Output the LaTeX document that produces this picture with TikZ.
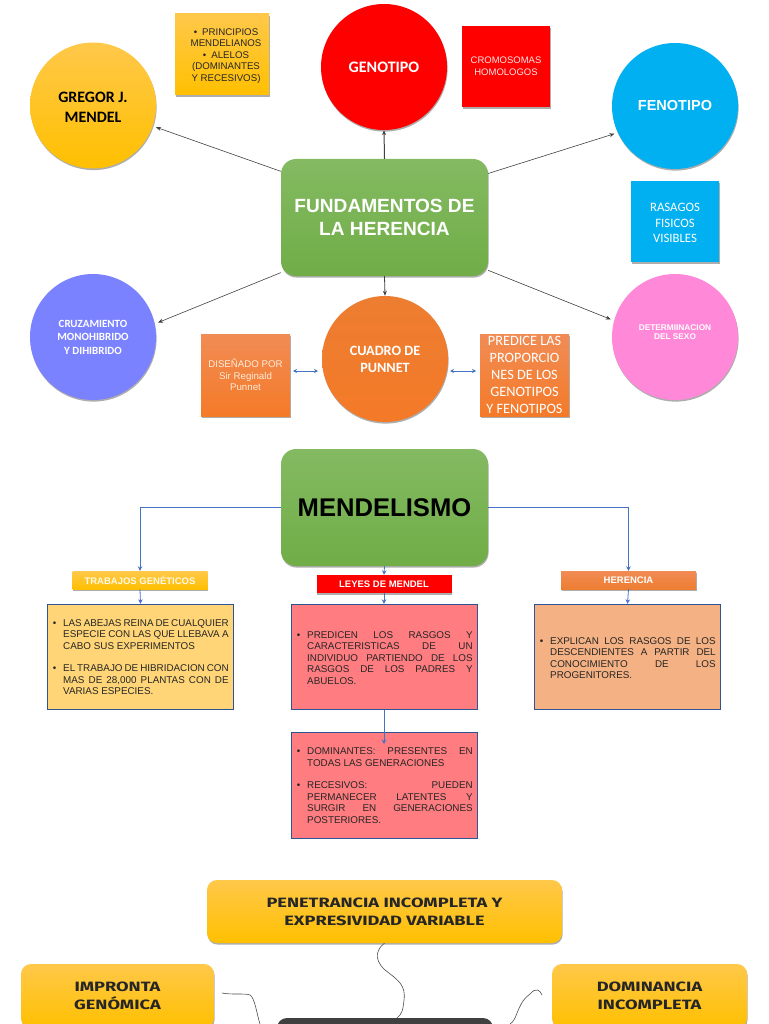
\documentclass[tikz,border=0pt]{standalone}
\usepackage{fontspec}
\setmainfont{Liberation Sans}
\newfontfamily\carl{Carlito}
\newfontfamily\fira{Fira Sans}
\usetikzlibrary{shadows,arrows.meta}
\definecolor{gold}{HTML}{FFC000}
\definecolor{goldt}{HTML}{FFC84A}
\definecolor{grn}{HTML}{70AD47}
\definecolor{grnt}{HTML}{84BA62}
\definecolor{org}{HTML}{ED7D31}
\definecolor{orgb}{HTML}{F47A28}
\definecolor{orgt}{HTML}{F18C55}
\definecolor{sky}{HTML}{00B0F0}
\definecolor{peri}{HTML}{7B82FF}
\definecolor{pinkc}{HTML}{FF88D8}
\definecolor{ltgold}{HTML}{FFD577}
\definecolor{salmon}{HTML}{FF7C80}
\definecolor{peach}{HTML}{F4B183}
\definecolor{navy}{HTML}{2F5496}
\definecolor{conn}{HTML}{4472C4}
\definecolor{darkb}{HTML}{404040}
\tikzset{
  shad/.style={drop shadow={shadow xshift=0.6pt,shadow yshift=-1.6pt,opacity=.4,fill=black!80}},
  circ/.style={circle,minimum size=126pt,inner sep=0pt,align=center,shad},
  sq/.style={rectangle,inner sep=0pt,align=center,shad},
  rbox/.style={rectangle,rounded corners=15pt,inner sep=0pt,align=center,shad},
  head/.style={rectangle,inner sep=0pt,align=center,shad,minimum height=18pt,minimum width=135pt,font=\bfseries\fontsize{9.5}{11}\selectfont,text=white},
  det/.style={rectangle,draw=navy,line width=.9pt,inner sep=0pt,minimum width=186pt,minimum height=105.5pt},
  gr/.style={draw=black!75,line width=.6pt,shorten >=3.5pt,-{Stealth[length=5pt,width=4pt]}},
  bl/.style={draw=conn,line width=.8pt,-{Stealth[length=4.5pt,width=4.5pt]}},
  dbl/.style={draw=conn,line width=.8pt,{Stealth[length=4pt,width=4pt]}-{Stealth[length=4pt,width=4pt]}},
  sq2/.style={draw=black!70,line width=.6pt},
  goldgrad/.style={top color=goldt,bottom color=gold},
  body/.style={text width=172pt,align=justify,inner sep=0pt,text=black!85}
}
\newcommand{\bfs}{\fontsize{9.85}{11.5}\selectfont\tolerance=10000\hbadness=10000\hfuzz=5pt}
\newcommand{\blt}{\leavevmode\llap{\textbullet\hspace{7pt}}}
\begin{document}
\begin{tikzpicture}[x=1pt,y=-1pt]
\useasboundingbox (0,0) rectangle (768,1024);
\clip (0,0) rectangle (768,1024);
% circles
\node[circ,goldgrad,text=black,font=\carl\bfseries\fontsize{15.9}{19}\selectfont] (greg) at (93,105.5) {\raisebox{-3pt}[\height][\depth]{\begin{tabular}{@{}c@{}}GREGOR J.\\[0.5pt]MENDEL\end{tabular}}};
\node[circ,fill=red,text=white,font=\carl\bfseries\fontsize{16}{18}\selectfont] (geno) at (384,67) {GENOTIPO};
\node[circ,fill=sky,text=white,font=\bfseries\fontsize{14.5}{16}\selectfont] (feno) at (675,106) {FENOTIPO};
\node[circ,fill=peri,text=white,font=\carl\bfseries\fontsize{11}{13.5}\selectfont] (cruz) at (93,337) {CRUZAMIENTO\\MONOHIBRIDO\\Y DIHIBRIDO};
\node[circ,top color=org,bottom color=orgb,text=white,font=\carl\bfseries\fontsize{14.2}{17}\selectfont] (punn) at (385,359) {CUADRO DE\\PUNNET};
\node[circ,fill=pinkc,text=white,font=\bfseries\fontsize{8.3}{10}\selectfont] (dete) at (675,337) {\raisebox{9pt}{\shortstack{DETERMIINACION\\DEL SEXO}}};
% squares
\node[sq,goldgrad,minimum width=94pt,minimum height=81pt,text=black!85,font=\fontsize{9.7}{11.4}\selectfont] (prin) at (222,54.5) {\hspace{8pt}\raisebox{-1.5pt}[\height][\depth]{\begin{tabular}{@{}c@{}}\textbullet\hspace{5pt}PRINCIPIOS\\MENDELIANOS\\\textbullet\hspace{5pt}ALELOS\\(DOMINANTES\\Y RECESIVOS)\end{tabular}}};
\node[sq,fill=red,minimum width=88pt,minimum height=81pt,text=white!90!red,font=\fontsize{9.5}{11.6}\selectfont] (crom) at (506,66.5) {CROMOSOMAS\\HOMOLOGOS};
\node[sq,fill=sky,minimum width=88pt,minimum height=81pt,text=white,font=\carl\fontsize{12.8}{15.5}\selectfont] (rasa) at (675,221.5) {\raisebox{-2.5pt}[\height][\depth]{\begin{tabular}{@{}c@{}}RASAGOS\\[0.2pt]FISICOS\\[0.2pt]VISIBLES\end{tabular}}};
\node[sq,top color=orgt,bottom color=orgb,minimum width=89pt,minimum height=82pt,text=white!85!orange,font=\fontsize{9.7}{11.7}\selectfont] (dise) at (245.5,375) {DISEÑADO POR\\Sir Reginald\\Punnet};
\node[sq,top color=orgt,bottom color=orgb,minimum width=89pt,minimum height=82pt,text=white,font=\carl\fontsize{14.3}{17.2}\selectfont] (pred) at (524.5,375) {PREDICE LAS\\PROPORCIO\\NES DE LOS\\GENOTIPOS\\Y FENOTIPOS};
% green
\node[rbox,top color=grnt,bottom color=grn,minimum width=207pt,minimum height=117pt,text=white,font=\bfseries\fontsize{19.1}{23}\selectfont] (fund) at (384.5,217.5) {FUNDAMENTOS DE\\LA HERENCIA};
\node[rbox,top color=grnt,bottom color=grn,minimum width=207pt,minimum height=117pt,text=black,font=\bfseries\fontsize{25.6}{30}\selectfont] (mend) at (384.5,507.5) {MENDELISMO};
% arrows
\draw[gr] (fund.156.7) -- (greg.-19);
\draw[gr,shorten >=0pt,line width=1pt] (fund.north) -- (geno.south);
\draw[gr] (fund.23.5) -- (feno.205.4);
\draw[gr] (fund.208) -- (cruz.12);
\draw[gr] (fund.-27) -- (dete.165);
\draw[gr,shorten >=0pt,line width=.8pt] (fund.south) -- (punn.north);
\coordinate (a1) at (293,371); \coordinate (a2) at (318,371);
\coordinate (a3) at (450,371); \coordinate (a4) at (476,371);
\draw[dbl] (a1) -- (a2);
\draw[dbl] (a3) -- (a4);
% heads
\node[head,top color=goldt,bottom color=gold,text=white!90!gold] (trab) at (140,580) {TRABAJOS GENÉTICOS};
\node[head,fill=red] (leye) at (384,584) {LEYES DE MENDEL};
\node[head,top color=orgt,bottom color=org] (here) at (628.5,580) {HERENCIA};
% detail
\node[det,fill=ltgold] (d1) at (140.5,657) {};
\node[det,fill=salmon] (d2) at (384,657) {};
\node[det,fill=peach] (d3) at (627.5,657) {};
\node[det,fill=salmon] (d4) at (384,785.5) {};
\node[body,anchor=north west] (t1) at (47,619) {\hspace*{16pt}\begin{minipage}[t]{165.5pt}\bfs\setlength{\parskip}{11pt}
\blt LAS ABEJAS REINA DE CUALQUIER\linebreak ESPECIE CON LAS QUE LLEBAVA A\linebreak CABO SUS EXPERIMENTOS\par
\blt EL TRABAJO DE HIBRIDACION CON\linebreak MAS DE 28,000 PLANTAS CON DE\linebreak VARIAS ESPECIES.\end{minipage}};
\node[body,anchor=north west] (t2) at (291,631) {\hspace*{16pt}\begin{minipage}[t]{165.5pt}\bfs
\blt PREDICEN LOS RASGOS Y\linebreak CARACTERISTICAS DE UN\linebreak INDIVIDUO PARTIENDO DE LOS\linebreak RASGOS DE LOS PADRES Y\linebreak ABUELOS.\end{minipage}};
\node[body,anchor=north west] (t3) at (534,637) {\hspace*{16pt}\begin{minipage}[t]{165.5pt}\bfs
\blt EXPLICAN LOS RASGOS DE LOS\linebreak DESCENDIENTES A PARTIR DEL\linebreak CONOCIMIENTO DE LOS\linebreak PROGENITORES.\end{minipage}};
\node[body,anchor=north west] (t4) at (291,747.5) {\hspace*{16pt}\begin{minipage}[t]{165.5pt}\bfs\setlength{\parskip}{11pt}
\blt DOMINANTES: PRESENTES EN\linebreak TODAS LAS GENERACIONES\par
\blt RECESIVOS: PUEDEN\linebreak PERMANECER LATENTES Y\linebreak SURGIR EN GENERACIONES\linebreak POSTERIORES.\end{minipage}};
% blue connectors
\draw[bl] (mend.west) -| (trab.north);
\draw[bl] (mend.east) -| (here.north);
\draw[bl] (mend.south) -- (leye.north);
\draw[bl] (trab.south) -- (d1.north);
\draw[bl] (leye.south) -- (d2.north);
\draw[bl] (here.south) -- (d3.north);
\coordinate (d4in) at (384,744);
\draw[bl] (d2.south) -- (d4in);
% bottom
\node[rbox,rounded corners=10pt,goldgrad,minimum width=355pt,minimum height=63pt,text=black!85,font=\fira\bfseries\fontsize{13.5}{18}\selectfont] (pene) at (384.5,911.5) {\scalebox{1.35}[1]{PENETRANCIA INCOMPLETA Y}\\\scalebox{1.35}[1]{EXPRESIVIDAD VARIABLE}};
\node[rbox,rounded corners=10pt,goldgrad,minimum width=193pt,minimum height=64pt,text=black!85,font=\fira\bfseries\fontsize{13.5}{18}\selectfont] (impr) at (117.5,996) {\scalebox{1.35}[1]{IMPRONTA}\\\scalebox{1.35}[1]{GENÓMICA}};
\node[rbox,rounded corners=10pt,goldgrad,minimum width=195pt,minimum height=64pt,text=black!85,font=\fira\bfseries\fontsize{13.5}{18}\selectfont] (domi) at (649.5,996) {\scalebox{1.35}[1]{DOMINANCIA}\\\scalebox{1.35}[1]{INCOMPLETA}};
\node[rbox,rounded corners=10pt,fill=darkb,minimum width=216pt,minimum height=40pt] (cent) at (385,1038) {};
\coordinate (s1) at (222,993);
\coordinate (s2) at (542,995);
\draw[sq2] (pene.south) .. controls (378,948) and (372,958) .. (385,970) .. controls (398,980) and (406,985) .. (404,1000) .. controls (403,1010) and (402,1014) .. (397,1018);
\draw[sq2] (s1) .. controls (232,995) and (245,993) .. (250,995) .. controls (255,998) and (257,1015) .. (260,1024);
\draw[sq2] (s2) .. controls (540,990) and (536,987) .. (530,994) .. controls (522,1000) and (520,1006) .. (517,1013) .. controls (515,1019) and (513,1022) .. (510,1024);
\end{tikzpicture}
\end{document}
